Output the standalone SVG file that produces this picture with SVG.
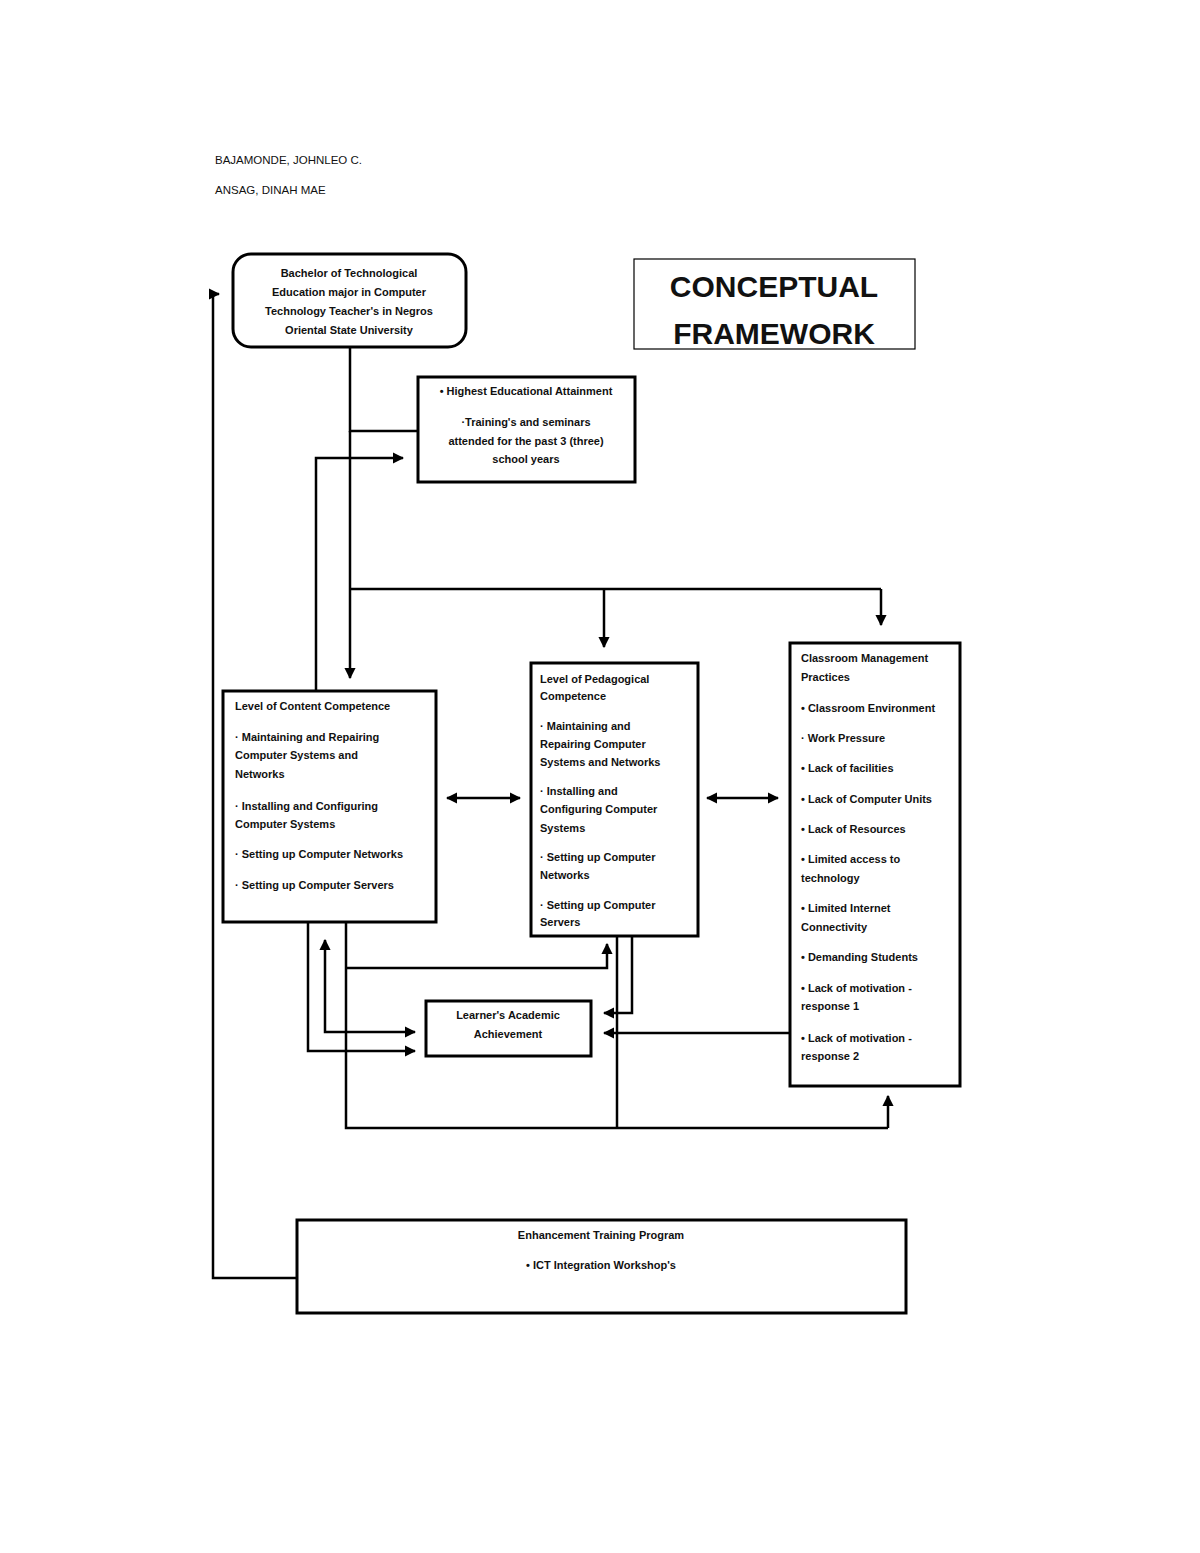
<svg xmlns="http://www.w3.org/2000/svg" width="1200" height="1553" viewBox="0 0 1200 1553">
<defs>
<marker id="ah" viewBox="0 0 10 10" refX="9" refY="5" markerWidth="4.5" markerHeight="4.5" orient="auto-start-reverse"><path d="M0,0 L10,5 L0,10 z" fill="#000"/></marker>
<style>
.box{fill:#fff;stroke:#000;stroke-width:3}
.t{font-family:"Liberation Sans",Arial,sans-serif;font-weight:bold;font-size:11px;fill:#111}
.c{text-anchor:middle}
.ln{fill:none;stroke:#000;stroke-width:2.5}
.ar{fill:none;stroke:#000;stroke-width:2.5;marker-end:url(#ah)}
.ar2{fill:none;stroke:#000;stroke-width:2.5;marker-end:url(#ah);marker-start:url(#ah)}
</style>
</defs>
<rect width="1200" height="1553" fill="#fff"/>
<text class="t" x="215" y="164" style="font-weight:normal;font-size:11.5px">BAJAMONDE, JOHNLEO C.</text>
<text class="t" x="215" y="194" style="font-weight:normal;font-size:11.5px">ANSAG, DINAH MAE</text>

<g id="connectors">
<path class="ln" d="M350,347 V431 H418"/>
<path class="ar" d="M350,431 V678"/>
<path class="ar" d="M316,691 V458 H403"/>
<path class="ln" d="M350,589 H881"/>
<path class="ar" d="M604,589 V647"/>
<path class="ar" d="M881,589 V625"/>
<path class="ar2" d="M447,798 H520"/>
<path class="ar2" d="M707,798 H778"/>
<path class="ar" d="M308,922 V1051 H415"/>
<path class="ar2" d="M325,940 V1032 H415"/>
<path class="ln" d="M346,922 V1128 H888"/>
<path class="ar" d="M888,1128 V1096"/>
<path class="ar" d="M346,968 H607 V944"/>
<path class="ln" d="M617,936 V1128"/>
<path class="ar" d="M632,936 V1013 H604"/>
<path class="ar" d="M790,1033 H604"/>
<path class="ar" d="M297,1278 H213 V294 H219"/>
</g>

<g id="n1"><rect class="box" x="233" y="254" width="233" height="93" rx="18"/>
<text class="t c" x="349" y="277">Bachelor of Technological</text>
<text class="t c" x="349" y="296">Education major in Computer</text>
<text class="t c" x="349" y="315">Technology Teacher's in Negros</text>
<text class="t c" x="349" y="334">Oriental State University</text></g>

<g id="title"><rect x="634" y="259" width="281" height="90" fill="#fff" stroke="#000" stroke-width="1.2"/>
<text class="t c" x="774" y="297" style="font-size:30px">CONCEPTUAL</text>
<text class="t c" x="774" y="344" style="font-size:30px">FRAMEWORK</text></g>

<g id="n2"><rect class="box" x="418" y="377" width="217" height="105"/>
<text class="t c" x="526" y="395">• Highest Educational Attainment</text>
<text class="t c" x="526" y="426">·Training's and seminars</text>
<text class="t c" x="526" y="445">attended for the past 3 (three)</text>
<text class="t c" x="526" y="463">school years</text></g>

<g id="n3"><rect class="box" x="223" y="691" width="213" height="231"/>
<text class="t" x="235" y="710">Level of Content Competence</text>
<text class="t" x="235" y="741">· Maintaining and Repairing</text>
<text class="t" x="235" y="759">Computer Systems and</text>
<text class="t" x="235" y="778">Networks</text>
<text class="t" x="235" y="810">· Installing and Configuring</text>
<text class="t" x="235" y="828">Computer Systems</text>
<text class="t" x="235" y="858">· Setting up Computer Networks</text>
<text class="t" x="235" y="889">· Setting up Computer Servers</text></g>

<g id="n4"><rect class="box" x="531" y="663" width="167" height="273"/>
<text class="t" x="540" y="683">Level of Pedagogical</text>
<text class="t" x="540" y="700">Competence</text>
<text class="t" x="540" y="730">· Maintaining and</text>
<text class="t" x="540" y="748">Repairing Computer</text>
<text class="t" x="540" y="766">Systems and Networks</text>
<text class="t" x="540" y="795">· Installing and</text>
<text class="t" x="540" y="813">Configuring Computer</text>
<text class="t" x="540" y="832">Systems</text>
<text class="t" x="540" y="861">· Setting up Computer</text>
<text class="t" x="540" y="879">Networks</text>
<text class="t" x="540" y="909">· Setting up Computer</text>
<text class="t" x="540" y="926">Servers</text></g>

<g id="n5"><rect class="box" x="790" y="643" width="170" height="443"/>
<text class="t" x="801" y="662">Classroom Management</text>
<text class="t" x="801" y="681">Practices</text>
<text class="t" x="801" y="712">• Classroom Environment</text>
<text class="t" x="801" y="742">· Work Pressure</text>
<text class="t" x="801" y="772">• Lack of facilities</text>
<text class="t" x="801" y="803">• Lack of Computer Units</text>
<text class="t" x="801" y="833">• Lack of Resources</text>
<text class="t" x="801" y="863">• Limited access to</text>
<text class="t" x="801" y="882">technology</text>
<text class="t" x="801" y="912">• Limited Internet</text>
<text class="t" x="801" y="931">Connectivity</text>
<text class="t" x="801" y="961">• Demanding Students</text>
<text class="t" x="801" y="992">• Lack of motivation -</text>
<text class="t" x="801" y="1010">response 1</text>
<text class="t" x="801" y="1042">• Lack of motivation -</text>
<text class="t" x="801" y="1060">response 2</text></g>

<g id="n6"><rect class="box" x="426" y="1001" width="165" height="55"/>
<text class="t c" x="508" y="1019">Learner's Academic</text>
<text class="t c" x="508" y="1038">Achievement</text></g>

<g id="n7"><rect class="box" x="297" y="1220" width="609" height="93"/>
<text class="t c" x="601" y="1239">Enhancement Training Program</text>
<text class="t c" x="601" y="1269">• ICT Integration Workshop's</text></g>
</svg>
